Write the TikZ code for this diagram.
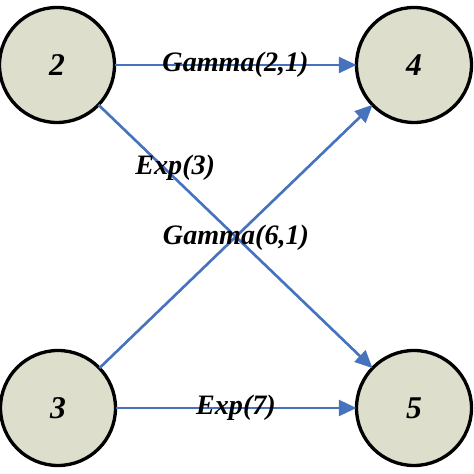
\documentclass[tikz,border=0pt]{standalone}
\usepackage{fontspec}
\setmainfont{Liberation Serif}
\usetikzlibrary{arrows.meta}
\definecolor{nodefill}{RGB}{221,222,203}
\definecolor{edgeblue}{RGB}{70,114,190}
\begin{document}
\begin{tikzpicture}[inner sep=0pt,outer sep=0pt,
state/.style={draw=black,fill=nodefill,circle,line width=1.9pt,minimum size=2.3cm,font=\fontsize{18}{21}\selectfont\bfseries\itshape},
flow/.style={draw=edgeblue,line width=1.5pt,-{Triangle[length=10pt,width=9pt]}},
rate/.style={font=\fontsize{16}{19}\selectfont\bfseries\itshape,text=black}]

\useasboundingbox (0,0) rectangle (9.48,9.48);

\draw (1.14,8.18) node[state] (n2) {2};
\draw (8.28,8.18) node[state] (n4) {4};
\draw (1.16,1.32) node[state] (n3) {3};
\draw (8.28,1.32) node[state] (n5) {5};

\draw[flow] (n2) -- node[rate,pos=.5] {Gamma(2,1)} (n4);
\draw[flow] (n2) -- node[rate,pos=.28,yshift=.22cm] {Exp(3)} (n5);
\draw[flow] (n3) -- node[rate,pos=.5,yshift=-.02cm] {Gamma(6,1)} (n4);
\draw[flow] (n3) -- node[rate,pos=.5] {Exp(7)} (n5);

\end{tikzpicture}
\end{document}
